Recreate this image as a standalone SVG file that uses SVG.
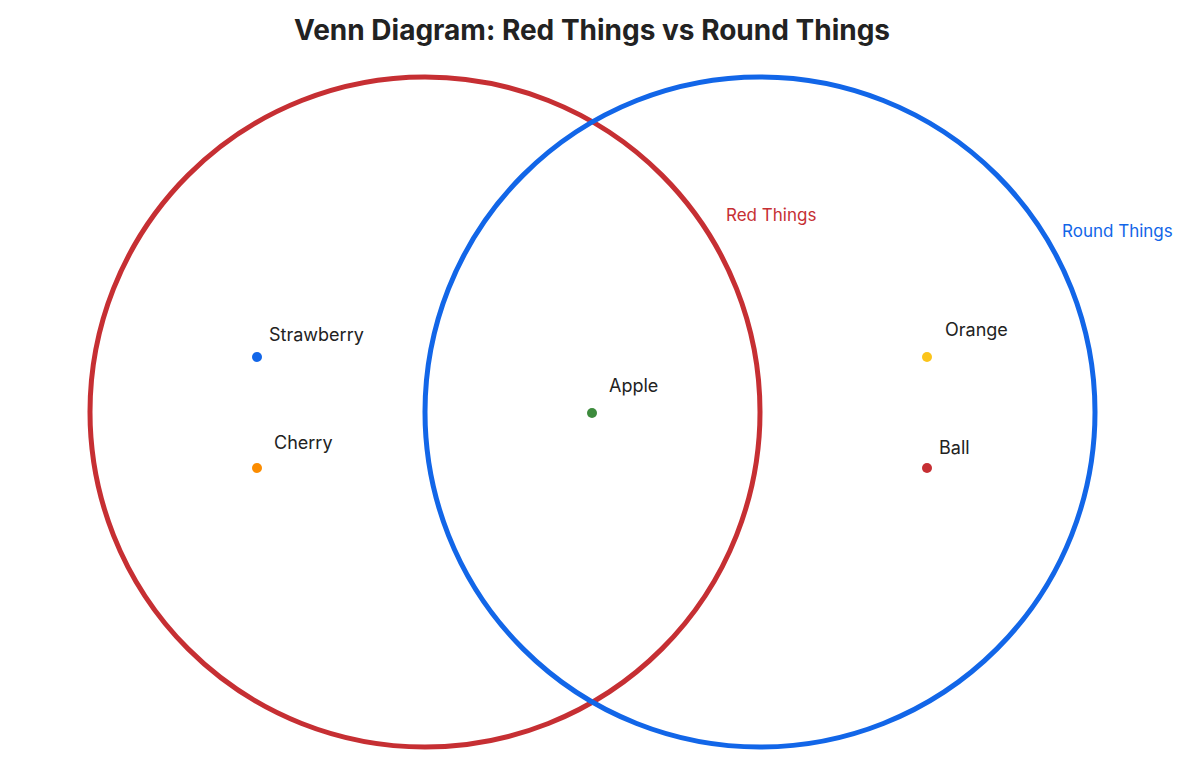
<svg xmlns="http://www.w3.org/2000/svg" width="1200" height="784" viewBox="0 0 1200 784">
<style>
text{font-family:Inter,"Noto Sans",sans-serif}
.lbl{font-size:18px;fill:#222}
.set{fill:none;stroke-width:5}
</style>
<rect width="1200" height="784" fill="#fff"/>
<text x="592" y="40" text-anchor="middle" font-size="28" font-weight="bold" fill="#222">Venn Diagram: Red Things vs Round Things</text>
<g id="red-set"><circle class="set" cx="425" cy="412" r="335" stroke="#c62f33"/><text x="726" y="221" font-size="17" fill="#c62f33">Red Things</text></g>
<g id="round-set"><circle class="set" cx="760" cy="412" r="335" stroke="#1266e8"/><text x="1062" y="237" font-size="17" fill="#1266e8">Round Things</text></g>
<g id="strawberry"><circle cx="257" cy="357" r="5" fill="#1266e8"/><text class="lbl" x="269" y="341">Strawberry</text></g>
<g id="cherry"><circle cx="257" cy="468" r="5" fill="#fb8c00"/><text class="lbl" x="274" y="449">Cherry</text></g>
<g id="apple"><circle cx="592" cy="413" r="5" fill="#3d8b3d"/><text class="lbl" x="609" y="392">Apple</text></g>
<g id="orange"><circle cx="927" cy="357" r="5" fill="#fbc41b"/><text class="lbl" x="945" y="336">Orange</text></g>
<g id="ball"><circle cx="927" cy="468" r="5" fill="#c62f33"/><text class="lbl" x="939" y="454">Ball</text></g>
<g id="connectors"/>
</svg>
